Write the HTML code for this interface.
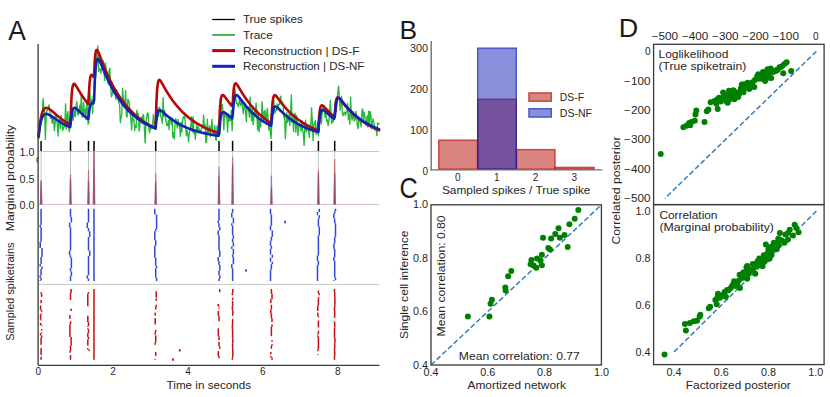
<!DOCTYPE html>
<html><head><meta charset="utf-8"><style>
html,body{margin:0;padding:0;background:#fff;}
svg{display:block;font-family:"Liberation Sans", sans-serif;}
</style></head><body>
<svg width="830" height="397" viewBox="0 0 830 397">
<rect width="830" height="397" fill="#fff"/>
<path d="M38.60,138.73 L39.35,130.65 L40.10,123.01 L40.85,123.52 L41.60,114.02 L42.35,112.35 L43.10,98.61 L43.85,109.58 L44.60,109.94 L45.35,139.43 L46.10,118.17 L46.85,110.60 L47.60,110.40 L48.35,107.28 L49.10,104.83 L49.85,111.04 L50.60,118.42 L51.35,115.20 L52.10,123.39 L52.85,116.06 L53.60,118.73 L54.35,130.64 L55.10,123.62 L55.85,115.04 L56.60,117.80 L57.35,125.80 L58.10,135.96 L58.85,120.23 L59.60,119.95 L60.35,128.51 L61.10,115.69 L61.85,120.17 L62.60,130.29 L63.35,128.98 L64.10,125.75 L64.85,126.79 L65.60,103.62 L66.35,129.32 L67.10,116.98 L67.85,111.63 L68.60,127.26 L69.35,131.79 L70.10,122.76 L70.85,112.67 L71.60,113.43 L72.35,111.37 L73.10,120.28 L73.85,115.08 L74.60,110.75 L75.35,116.47 L76.10,106.60 L76.85,101.63 L77.60,113.66 L78.35,115.07 L79.10,108.83 L79.85,105.21 L80.60,110.72 L81.35,93.83 L82.10,117.06 L82.85,117.19 L83.60,102.29 L84.35,113.37 L85.10,109.20 L85.85,119.76 L86.60,100.85 L87.35,109.21 L88.10,124.32 L88.85,122.00 L89.60,91.27 L90.35,98.73 L91.10,104.49 L91.85,99.49 L92.60,113.45 L93.35,95.37 L94.10,100.32 L94.85,72.33 L95.60,77.73 L96.35,62.55 L97.10,54.39 L97.85,46.01 L98.60,71.41 L99.35,68.49 L100.10,69.43 L100.85,73.39 L101.60,68.25 L102.35,61.20 L103.10,60.73 L103.85,64.53 L104.60,80.83 L105.35,62.95 L106.10,68.99 L106.85,74.25 L107.60,80.85 L108.35,83.95 L109.10,70.75 L109.85,68.29 L110.60,84.28 L111.35,96.71 L112.10,95.11 L112.85,91.12 L113.60,88.24 L114.35,93.32 L115.10,91.94 L115.85,99.48 L116.60,89.75 L117.35,96.47 L118.10,97.21 L118.85,102.96 L119.60,104.45 L120.35,122.71 L121.10,117.63 L121.85,114.00 L122.60,88.36 L123.35,99.08 L124.10,100.67 L124.85,107.60 L125.60,90.56 L126.35,116.10 L127.10,117.14 L127.85,99.20 L128.60,100.36 L129.35,103.70 L130.10,111.96 L130.85,119.71 L131.60,130.01 L132.35,115.09 L133.10,120.62 L133.85,118.93 L134.60,130.76 L135.35,125.46 L136.10,127.60 L136.85,110.12 L137.60,114.69 L138.35,113.47 L139.10,131.09 L139.85,126.19 L140.60,117.99 L141.35,117.28 L142.10,123.93 L142.85,115.61 L143.60,114.46 L144.35,127.95 L145.10,142.94 L145.85,123.36 L146.60,117.97 L147.35,112.97 L148.10,113.29 L148.85,128.72 L149.60,132.71 L150.35,126.98 L151.10,128.86 L151.85,127.82 L152.60,126.45 L153.35,114.55 L154.10,122.31 L154.85,127.35 L155.60,121.37 L156.35,114.56 L157.10,107.19 L157.85,109.04 L158.60,116.38 L159.35,107.24 L160.10,108.99 L160.85,117.14 L161.60,118.30 L162.35,123.33 L163.10,97.68 L163.85,116.78 L164.60,110.30 L165.35,115.25 L166.10,122.39 L166.85,125.65 L167.60,125.28 L168.35,120.22 L169.10,129.67 L169.85,116.71 L170.60,117.45 L171.35,124.32 L172.10,117.70 L172.85,137.43 L173.60,132.67 L174.35,139.07 L175.10,122.73 L175.85,118.70 L176.60,123.77 L177.35,127.98 L178.10,119.37 L178.85,125.81 L179.60,125.65 L180.35,136.44 L181.10,121.94 L181.85,132.02 L182.60,120.26 L183.35,116.65 L184.10,118.21 L184.85,116.30 L185.60,127.73 L186.35,135.60 L187.10,130.33 L187.85,134.46 L188.60,141.92 L189.35,132.24 L190.10,130.10 L190.85,125.20 L191.60,116.71 L192.35,132.06 L193.10,116.97 L193.85,133.31 L194.60,131.76 L195.35,139.27 L196.10,130.33 L196.85,124.49 L197.60,132.49 L198.35,126.92 L199.10,129.46 L199.85,131.65 L200.60,130.60 L201.35,129.54 L202.10,125.17 L202.85,127.90 L203.60,115.11 L204.35,128.14 L205.10,124.28 L205.85,142.10 L206.60,142.56 L207.35,119.19 L208.10,132.62 L208.85,131.77 L209.60,125.86 L210.35,136.71 L211.10,129.17 L211.85,119.36 L212.60,130.31 L213.35,133.14 L214.10,134.08 L214.85,125.60 L215.60,139.28 L216.35,140.31 L217.10,125.98 L217.85,128.68 L218.60,133.41 L219.35,126.45 L220.10,134.27 L220.85,118.26 L221.60,104.65 L222.35,104.73 L223.10,112.74 L223.85,129.87 L224.60,113.06 L225.35,113.88 L226.10,117.28 L226.85,116.15 L227.60,131.96 L228.35,113.68 L229.10,121.10 L229.85,118.77 L230.60,120.67 L231.35,110.27 L232.10,130.71 L232.85,114.32 L233.60,102.92 L234.35,90.23 L235.10,89.55 L235.85,99.45 L236.60,103.73 L237.35,103.12 L238.10,106.73 L238.85,103.40 L239.60,99.17 L240.35,105.69 L241.10,104.86 L241.85,100.89 L242.60,108.36 L243.35,113.58 L244.10,106.09 L244.85,102.32 L245.60,112.42 L246.35,121.72 L247.10,106.99 L247.85,106.62 L248.60,108.57 L249.35,117.13 L250.10,96.99 L250.85,113.14 L251.60,120.68 L252.35,108.48 L253.10,124.64 L253.85,118.91 L254.60,110.70 L255.35,114.55 L256.10,102.99 L256.85,112.01 L257.60,129.99 L258.35,113.94 L259.10,131.76 L259.85,120.72 L260.60,126.99 L261.35,118.70 L262.10,101.64 L262.85,113.97 L263.60,120.88 L264.35,111.19 L265.10,110.45 L265.85,123.39 L266.60,116.37 L267.35,108.42 L268.10,117.42 L268.85,129.86 L269.60,122.53 L270.35,133.44 L271.10,138.46 L271.85,119.67 L272.60,101.93 L273.35,97.02 L274.10,106.17 L274.85,113.39 L275.60,109.62 L276.35,110.56 L277.10,104.19 L277.85,109.02 L278.60,104.45 L279.35,104.61 L280.10,97.49 L280.85,96.11 L281.60,104.66 L282.35,101.61 L283.10,104.51 L283.85,117.61 L284.60,116.70 L285.35,138.76 L286.10,124.96 L286.85,112.53 L287.60,122.44 L288.35,120.03 L289.10,113.63 L289.85,125.58 L290.60,110.61 L291.35,94.85 L292.10,122.49 L292.85,117.66 L293.60,131.43 L294.35,116.39 L295.10,113.20 L295.85,132.33 L296.60,115.79 L297.35,125.08 L298.10,135.41 L298.85,126.19 L299.60,123.87 L300.35,126.26 L301.10,131.07 L301.85,120.43 L302.60,130.44 L303.35,133.70 L304.10,145.38 L304.85,125.53 L305.60,120.21 L306.35,132.02 L307.10,125.60 L307.85,130.09 L308.60,130.85 L309.35,137.44 L310.10,124.71 L310.85,125.21 L311.60,108.02 L312.35,121.54 L313.10,140.64 L313.85,125.55 L314.60,122.89 L315.35,120.76 L316.10,134.45 L316.85,131.88 L317.60,122.63 L318.35,135.90 L319.10,124.93 L319.85,120.88 L320.60,109.25 L321.35,123.91 L322.10,114.48 L322.85,108.47 L323.60,105.28 L324.35,108.64 L325.10,117.19 L325.85,111.25 L326.60,121.06 L327.35,119.86 L328.10,125.62 L328.85,121.91 L329.60,113.15 L330.35,100.34 L331.10,117.27 L331.85,123.38 L332.60,119.84 L333.35,121.90 L334.10,114.72 L334.85,111.63 L335.60,99.99 L336.35,111.48 L337.10,100.89 L337.85,92.55 L338.60,86.17 L339.35,96.68 L340.10,110.27 L340.85,103.63 L341.60,96.19 L342.35,113.15 L343.10,115.79 L343.85,112.95 L344.60,112.25 L345.35,115.29 L346.10,111.88 L346.85,112.43 L347.60,103.35 L348.35,119.59 L349.10,114.32 L349.85,124.12 L350.60,96.89 L351.35,115.83 L352.10,120.19 L352.85,111.37 L353.60,117.39 L354.35,121.06 L355.10,119.52 L355.85,111.45 L356.60,115.29 L357.35,125.84 L358.10,128.48 L358.85,119.86 L359.60,119.19 L360.35,121.54 L361.10,126.80 L361.85,111.14 L362.60,108.80 L363.35,119.41 L364.10,112.02 L364.85,116.08 L365.60,122.83 L366.35,125.56 L367.10,115.83 L367.85,127.10 L368.60,111.10 L369.35,125.35 L370.10,111.37 L370.85,113.97 L371.60,128.92 L372.35,122.42 L373.10,118.96 L373.85,122.62 L374.60,130.06 L375.35,127.16 L376.10,128.24 L376.85,135.47 L377.60,122.93 L378.35,123.35 L379.10,123.99" fill="none" stroke="rgb(40,185,60)" stroke-width="1.35" stroke-linejoin="round" stroke-linecap="round" />
<path d="M38.60,137.05 L39.35,129.03 L40.10,122.91 L40.85,118.28 L41.60,114.83 L42.35,112.31 L43.10,110.51 L43.85,109.28 L44.60,108.50 L45.35,108.07 L46.10,107.91 L46.85,107.96 L47.60,108.17 L48.35,108.51 L49.10,108.94 L49.85,109.44 L50.60,109.99 L51.35,110.58 L52.10,111.19 L52.85,111.83 L53.60,112.47 L54.35,113.11 L55.10,113.76 L55.85,114.40 L56.60,115.04 L57.35,115.67 L58.10,116.29 L58.85,116.90 L59.60,117.50 L60.35,118.09 L61.10,118.66 L61.85,119.23 L62.60,119.78 L63.35,120.32 L64.10,120.84 L64.85,121.36 L65.60,121.86 L66.35,122.36 L67.10,122.84 L67.85,123.31 L68.60,123.76 L69.35,124.21 L70.10,124.65 L70.85,112.02 L71.60,95.55 L72.35,87.90 L73.10,84.73 L73.85,83.83 L74.60,84.08 L75.35,84.89 L76.10,85.97 L76.85,87.18 L77.60,88.43 L78.35,89.69 L79.10,90.94 L79.85,92.18 L80.60,93.38 L81.35,94.56 L82.10,95.71 L82.85,96.84 L83.60,97.94 L84.35,99.01 L85.10,100.06 L85.85,101.08 L86.60,102.07 L87.35,103.05 L88.10,104.00 L88.85,94.70 L89.60,82.37 L90.35,76.94 L91.10,75.00 L91.85,74.84 L92.60,75.55 L93.35,76.70 L94.10,74.73 L94.85,59.12 L95.60,52.33 L96.35,50.01 L97.10,49.95 L97.85,51.01 L98.60,52.62 L99.35,54.48 L100.10,56.45 L100.85,58.44 L101.60,60.43 L102.35,62.39 L103.10,64.31 L103.85,66.19 L104.60,68.03 L105.35,69.83 L106.10,71.58 L106.85,73.29 L107.60,74.96 L108.35,76.58 L109.10,78.17 L109.85,79.72 L110.60,81.24 L111.35,82.71 L112.10,84.15 L112.85,85.56 L113.60,86.93 L114.35,88.27 L115.10,89.58 L115.85,90.85 L116.60,92.09 L117.35,93.31 L118.10,94.49 L118.85,95.65 L119.60,96.78 L120.35,97.88 L121.10,98.95 L121.85,100.00 L122.60,101.02 L123.35,102.02 L124.10,102.99 L124.85,103.94 L125.60,104.87 L126.35,105.78 L127.10,106.66 L127.85,107.52 L128.60,108.36 L129.35,109.18 L130.10,109.98 L130.85,110.76 L131.60,111.52 L132.35,112.27 L133.10,112.99 L133.85,113.70 L134.60,114.39 L135.35,115.07 L136.10,115.73 L136.85,116.37 L137.60,116.99 L138.35,117.61 L139.10,118.20 L139.85,118.79 L140.60,119.35 L141.35,119.91 L142.10,120.45 L142.85,120.98 L143.60,121.49 L144.35,121.99 L145.10,122.49 L145.85,122.96 L146.60,123.43 L147.35,123.89 L148.10,124.33 L148.85,124.77 L149.60,125.19 L150.35,125.60 L151.10,126.01 L151.85,126.40 L152.60,126.78 L153.35,127.16 L154.10,127.52 L154.85,127.88 L155.60,128.23 L156.35,103.86 L157.10,89.52 L157.85,83.01 L158.60,80.46 L159.35,79.93 L160.10,80.40 L160.85,81.37 L161.60,82.57 L162.35,83.88 L163.10,85.22 L163.85,86.56 L164.60,87.89 L165.35,89.20 L166.10,90.48 L166.85,91.73 L167.60,92.95 L168.35,94.14 L169.10,95.30 L169.85,96.44 L170.60,97.55 L171.35,98.63 L172.10,99.69 L172.85,100.72 L173.60,101.72 L174.35,102.70 L175.10,103.66 L175.85,104.59 L176.60,105.51 L177.35,106.39 L178.10,107.26 L178.85,108.11 L179.60,108.94 L180.35,109.74 L181.10,110.53 L181.85,111.30 L182.60,112.05 L183.35,112.78 L184.10,113.49 L184.85,114.19 L185.60,114.87 L186.35,115.53 L187.10,116.18 L187.85,116.81 L188.60,117.42 L189.35,118.02 L190.10,118.61 L190.85,119.18 L191.60,119.74 L192.35,120.29 L193.10,120.82 L193.85,121.34 L194.60,121.84 L195.35,122.34 L196.10,122.82 L196.85,123.29 L197.60,123.75 L198.35,124.20 L199.10,124.64 L199.85,125.06 L200.60,125.48 L201.35,125.89 L202.10,126.28 L202.85,126.67 L203.60,127.05 L204.35,127.41 L205.10,127.77 L205.85,128.12 L206.60,128.47 L207.35,128.80 L208.10,129.13 L208.85,129.44 L209.60,129.75 L210.35,130.06 L211.10,130.35 L211.85,130.64 L212.60,130.92 L213.35,131.20 L214.10,131.47 L214.85,131.73 L215.60,131.98 L216.35,132.23 L217.10,132.47 L217.85,132.71 L218.60,132.94 L219.35,121.26 L220.10,106.08 L220.85,98.95 L221.60,95.90 L222.35,94.94 L223.10,95.02 L223.85,95.62 L224.60,96.47 L225.35,97.43 L226.10,98.45 L226.85,99.47 L227.60,100.49 L228.35,101.49 L229.10,102.47 L229.85,103.43 L230.60,104.37 L231.35,105.28 L232.10,106.18 L232.85,100.91 L233.60,90.05 L234.35,85.26 L235.10,83.55 L235.85,83.39 L236.60,84.01 L237.35,85.01 L238.10,86.18 L238.85,87.43 L239.60,88.70 L240.35,89.97 L241.10,91.22 L241.85,92.45 L242.60,93.65 L243.35,94.83 L244.10,95.97 L244.85,97.09 L245.60,98.18 L246.35,99.25 L247.10,100.29 L247.85,101.31 L248.60,102.30 L249.35,103.26 L250.10,104.21 L250.85,105.13 L251.60,106.03 L252.35,106.90 L253.10,107.76 L253.85,108.59 L254.60,109.41 L255.35,110.20 L256.10,110.98 L256.85,111.74 L257.60,112.48 L258.35,113.20 L259.10,113.90 L259.85,114.59 L260.60,115.26 L261.35,115.91 L262.10,116.55 L262.85,117.17 L263.60,117.78 L264.35,118.37 L265.10,118.95 L265.85,119.51 L266.60,120.06 L267.35,120.60 L268.10,121.12 L268.85,121.64 L269.60,122.13 L270.35,122.62 L271.10,123.10 L271.85,112.28 L272.60,101.95 L273.35,97.29 L274.10,95.49 L274.85,95.16 L275.60,95.54 L276.35,96.29 L277.10,97.21 L277.85,98.20 L278.60,99.21 L279.35,100.23 L280.10,101.23 L280.85,102.22 L281.60,103.18 L282.35,104.13 L283.10,105.05 L283.85,105.95 L284.60,106.83 L285.35,107.69 L286.10,108.52 L286.85,109.34 L287.60,110.14 L288.35,110.91 L289.10,111.67 L289.85,112.41 L290.60,113.13 L291.35,113.84 L292.10,114.53 L292.85,115.20 L293.60,115.85 L294.35,116.49 L295.10,117.12 L295.85,117.72 L296.60,118.32 L297.35,118.90 L298.10,119.46 L298.85,120.01 L299.60,120.55 L300.35,121.08 L301.10,121.59 L301.85,122.09 L302.60,122.58 L303.35,123.06 L304.10,123.52 L304.85,123.97 L305.60,124.42 L306.35,124.85 L307.10,125.27 L307.85,125.68 L308.60,126.08 L309.35,126.47 L310.10,126.86 L310.85,127.23 L311.60,127.59 L312.35,127.95 L313.10,128.30 L313.85,128.63 L314.60,128.96 L315.35,129.29 L316.10,129.60 L316.85,129.91 L317.60,130.21 L318.35,130.50 L319.10,116.95 L319.85,109.81 L320.60,106.64 L321.35,105.48 L322.10,105.34 L322.85,105.71 L323.60,106.33 L324.35,107.06 L325.10,107.84 L325.85,108.64 L326.60,109.43 L327.35,110.22 L328.10,110.99 L328.85,111.74 L329.60,112.48 L330.35,113.20 L331.10,113.90 L331.85,114.59 L332.60,115.26 L333.35,115.91 L334.10,116.55 L334.85,113.99 L335.60,103.96 L336.35,99.42 L337.10,97.67 L337.85,97.33 L338.60,97.69 L339.35,98.39 L340.10,99.26 L340.85,100.21 L341.60,101.18 L342.35,102.15 L343.10,103.10 L343.85,104.04 L344.60,104.97 L345.35,105.87 L346.10,106.75 L346.85,107.60 L347.60,108.44 L348.35,109.26 L349.10,110.06 L349.85,110.84 L350.60,111.60 L351.35,112.34 L352.10,113.07 L352.85,113.77 L353.60,114.46 L354.35,115.13 L355.10,115.79 L355.85,116.43 L356.60,117.06 L357.35,117.67 L358.10,118.26 L358.85,118.84 L359.60,119.41 L360.35,119.96 L361.10,120.50 L361.85,121.03 L362.60,121.54 L363.35,122.04 L364.10,122.53 L364.85,123.01 L365.60,123.48 L366.35,123.93 L367.10,124.37 L367.85,124.81 L368.60,125.23 L369.35,125.64 L370.10,126.04 L370.85,126.44 L371.60,126.82 L372.35,127.19 L373.10,127.56 L373.85,127.91 L374.60,128.26 L375.35,128.60 L376.10,128.93 L376.85,129.25 L377.60,129.57 L378.35,129.88 L379.10,130.18" fill="none" stroke="rgb(181,9,5)" stroke-width="2.6" stroke-linejoin="round" stroke-linecap="round" />
<path d="M38.60,135.73 L39.35,129.65 L40.10,125.01 L40.85,121.52 L41.60,118.93 L42.35,117.05 L43.10,115.72 L43.85,114.82 L44.60,114.27 L45.35,113.98 L46.10,113.90 L46.85,113.97 L47.60,114.17 L48.35,114.46 L49.10,114.83 L49.85,115.24 L50.60,115.69 L51.35,116.17 L52.10,116.67 L52.85,117.17 L53.60,117.69 L54.35,118.20 L55.10,118.71 L55.85,119.22 L56.60,119.73 L57.35,120.22 L58.10,120.71 L58.85,121.19 L59.60,121.66 L60.35,122.12 L61.10,122.57 L61.85,123.01 L62.60,123.44 L63.35,123.86 L64.10,124.27 L64.85,124.67 L65.60,125.06 L66.35,125.44 L67.10,125.81 L67.85,126.17 L68.60,126.52 L69.35,126.86 L70.10,127.19 L70.85,122.20 L71.60,114.85 L72.35,110.86 L73.10,108.84 L73.85,108.00 L74.60,107.84 L75.35,108.09 L76.10,108.56 L76.85,109.16 L77.60,109.83 L78.35,110.54 L79.10,111.25 L79.85,111.96 L80.60,112.67 L81.35,113.36 L82.10,114.04 L82.85,114.70 L83.60,115.35 L84.35,115.98 L85.10,116.60 L85.85,117.20 L86.60,117.78 L87.35,118.35 L88.10,118.91 L88.85,114.69 L89.60,108.38 L90.35,105.04 L91.10,103.48 L91.85,102.95 L92.60,103.03 L93.35,103.46 L94.10,100.22 L94.85,79.46 L95.60,68.05 L96.35,62.19 L97.10,59.61 L97.85,58.95 L98.60,59.42 L99.35,60.53 L100.10,62.01 L100.85,63.69 L101.60,65.46 L102.35,67.26 L103.10,69.07 L103.85,70.87 L104.60,72.63 L105.35,74.36 L106.10,76.04 L106.85,77.69 L107.60,79.30 L108.35,80.87 L109.10,82.39 L109.85,83.88 L110.60,85.33 L111.35,86.74 L112.10,88.12 L112.85,89.46 L113.60,90.76 L114.35,92.04 L115.10,93.27 L115.85,94.48 L116.60,95.66 L117.35,96.80 L118.10,97.91 L118.85,99.00 L119.60,100.06 L120.35,101.09 L121.10,102.09 L121.85,103.07 L122.60,104.02 L123.35,104.95 L124.10,105.85 L124.85,106.73 L125.60,107.58 L126.35,108.42 L127.10,109.23 L127.85,110.02 L128.60,110.79 L129.35,111.55 L130.10,112.28 L130.85,112.99 L131.60,113.68 L132.35,114.36 L133.10,115.02 L133.85,115.66 L134.60,116.28 L135.35,116.89 L136.10,117.48 L136.85,118.06 L137.60,118.62 L138.35,119.17 L139.10,119.70 L139.85,120.22 L140.60,120.73 L141.35,121.22 L142.10,121.70 L142.85,122.17 L143.60,122.63 L144.35,123.07 L145.10,123.50 L145.85,123.92 L146.60,124.33 L147.35,124.73 L148.10,125.12 L148.85,125.50 L149.60,125.87 L150.35,126.23 L151.10,126.58 L151.85,126.92 L152.60,127.25 L153.35,127.57 L154.10,127.89 L154.85,128.20 L155.60,128.50 L156.35,120.47 L157.10,115.06 L157.85,112.17 L158.60,110.79 L159.35,110.29 L160.10,110.32 L160.85,110.64 L161.60,111.13 L162.35,111.71 L163.10,112.35 L163.85,113.00 L164.60,113.66 L165.35,114.32 L166.10,114.97 L166.85,115.60 L167.60,116.22 L168.35,116.83 L169.10,117.42 L169.85,118.00 L170.60,118.57 L171.35,119.11 L172.10,119.65 L172.85,120.17 L173.60,120.68 L174.35,121.17 L175.10,121.65 L175.85,122.12 L176.60,122.58 L177.35,123.02 L178.10,123.46 L178.85,123.88 L179.60,124.29 L180.35,124.69 L181.10,125.08 L181.85,125.46 L182.60,125.83 L183.35,126.19 L184.10,126.54 L184.85,126.88 L185.60,127.22 L186.35,127.54 L187.10,127.86 L187.85,128.16 L188.60,128.46 L189.35,128.76 L190.10,129.04 L190.85,129.32 L191.60,129.59 L192.35,129.85 L193.10,130.11 L193.85,130.36 L194.60,130.60 L195.35,130.84 L196.10,131.07 L196.85,131.29 L197.60,131.51 L198.35,131.72 L199.10,131.93 L199.85,132.13 L200.60,132.33 L201.35,132.52 L202.10,132.71 L202.85,132.89 L203.60,133.06 L204.35,133.24 L205.10,133.40 L205.85,133.57 L206.60,133.73 L207.35,133.88 L208.10,134.03 L208.85,134.18 L209.60,134.33 L210.35,134.46 L211.10,134.60 L211.85,134.73 L212.60,134.86 L213.35,134.99 L214.10,135.11 L214.85,135.23 L215.60,135.35 L216.35,135.46 L217.10,135.57 L217.85,135.68 L218.60,135.78 L219.35,129.81 L220.10,121.17 L220.85,116.36 L221.60,113.81 L222.35,112.61 L223.10,112.19 L223.85,112.24 L224.60,112.56 L225.35,113.03 L226.10,113.58 L226.85,114.18 L227.60,114.79 L228.35,115.41 L229.10,116.02 L229.85,116.62 L230.60,117.22 L231.35,117.80 L232.10,118.36 L232.85,113.99 L233.60,104.21 L234.35,98.90 L235.10,96.26 L235.85,95.18 L236.60,95.02 L237.35,95.40 L238.10,96.09 L238.85,96.94 L239.60,97.89 L240.35,98.88 L241.10,99.88 L241.85,100.88 L242.60,101.87 L243.35,102.84 L244.10,103.79 L244.85,104.72 L245.60,105.62 L246.35,106.51 L247.10,107.37 L247.85,108.21 L248.60,109.03 L249.35,109.82 L250.10,110.60 L250.85,111.35 L251.60,112.09 L252.35,112.81 L253.10,113.51 L253.85,114.19 L254.60,114.85 L255.35,115.50 L256.10,116.12 L256.85,116.74 L257.60,117.33 L258.35,117.92 L259.10,118.48 L259.85,119.03 L260.60,119.57 L261.35,120.09 L262.10,120.60 L262.85,121.10 L263.60,121.58 L264.35,122.05 L265.10,122.51 L265.85,122.96 L266.60,123.39 L267.35,123.82 L268.10,124.23 L268.85,124.63 L269.60,125.02 L270.35,125.40 L271.10,125.78 L271.85,119.51 L272.60,112.74 L273.35,109.09 L274.10,107.30 L274.85,106.60 L275.60,106.54 L276.35,106.86 L277.10,107.39 L277.85,108.03 L278.60,108.74 L279.35,109.48 L280.10,110.22 L280.85,110.96 L281.60,111.69 L282.35,112.41 L283.10,113.12 L283.85,113.80 L284.60,114.48 L285.35,115.13 L286.10,115.77 L286.85,116.39 L287.60,116.99 L288.35,117.58 L289.10,118.16 L289.85,118.72 L290.60,119.26 L291.35,119.79 L292.10,120.31 L292.85,120.82 L293.60,121.31 L294.35,121.78 L295.10,122.25 L295.85,122.70 L296.60,123.14 L297.35,123.57 L298.10,123.99 L298.85,124.40 L299.60,124.80 L300.35,125.19 L301.10,125.56 L301.85,125.93 L302.60,126.29 L303.35,126.64 L304.10,126.98 L304.85,127.31 L305.60,127.63 L306.35,127.94 L307.10,128.25 L307.85,128.55 L308.60,128.84 L309.35,129.12 L310.10,129.39 L310.85,129.66 L311.60,129.92 L312.35,130.18 L313.10,130.42 L313.85,130.66 L314.60,130.90 L315.35,131.13 L316.10,131.35 L316.85,131.57 L317.60,131.78 L318.35,131.99 L319.10,121.93 L319.85,115.73 L320.60,112.39 L321.35,110.74 L322.10,110.08 L322.85,110.02 L323.60,110.29 L324.35,110.76 L325.10,111.33 L325.85,111.97 L326.60,112.62 L327.35,113.29 L328.10,113.95 L328.85,114.61 L329.60,115.25 L330.35,115.88 L331.10,116.50 L331.85,117.10 L332.60,117.69 L333.35,118.26 L334.10,118.82 L334.85,116.59 L335.60,107.05 L336.35,101.86 L337.10,99.25 L337.85,98.17 L338.60,97.97 L339.35,98.30 L340.10,98.92 L340.85,99.71 L341.60,100.59 L342.35,101.51 L343.10,102.45 L343.85,103.38 L344.60,104.31 L345.35,105.21 L346.10,106.10 L346.85,106.97 L347.60,107.82 L348.35,108.64 L349.10,109.45 L349.85,110.24 L350.60,111.00 L351.35,111.75 L352.10,112.47 L352.85,113.18 L353.60,113.87 L354.35,114.54 L355.10,115.19 L355.85,115.83 L356.60,116.45 L357.35,117.05 L358.10,117.64 L358.85,118.22 L359.60,118.77 L360.35,119.32 L361.10,119.85 L361.85,120.36 L362.60,120.87 L363.35,121.36 L364.10,121.83 L364.85,122.30 L365.60,122.75 L366.35,123.19 L367.10,123.62 L367.85,124.04 L368.60,124.44 L369.35,124.84 L370.10,125.23 L370.85,125.60 L371.60,125.97 L372.35,126.32 L373.10,126.67 L373.85,127.01 L374.60,127.34 L375.35,127.66 L376.10,127.97 L376.85,128.28 L377.60,128.58 L378.35,128.86 L379.10,129.15" fill="none" stroke="rgb(17,33,185)" stroke-width="2.6" stroke-linejoin="round" stroke-linecap="round" />
<line x1="212.20" y1="19.50" x2="235.00" y2="19.50" stroke="#000" stroke-width="1.3" />
<text x="242.90" y="23.40" font-size="11" text-anchor="start" fill="#262626" textLength="60.0" lengthAdjust="spacingAndGlyphs">True spikes</text>
<line x1="212.20" y1="35.00" x2="235.00" y2="35.00" stroke="rgb(40,185,60)" stroke-width="1.8" />
<text x="242.90" y="38.90" font-size="11" text-anchor="start" fill="#262626" textLength="29.9" lengthAdjust="spacingAndGlyphs">Trace</text>
<line x1="212.20" y1="50.60" x2="235.00" y2="50.60" stroke="rgb(181,9,5)" stroke-width="3" />
<text x="242.90" y="54.50" font-size="11" text-anchor="start" fill="#262626" textLength="116.6" lengthAdjust="spacingAndGlyphs">Reconstruction | DS-F</text>
<line x1="212.20" y1="66.30" x2="235.00" y2="66.30" stroke="rgb(17,33,185)" stroke-width="3" />
<text x="242.90" y="70.20" font-size="11" text-anchor="start" fill="#262626" textLength="121.5" lengthAdjust="spacingAndGlyphs">Reconstruction | DS-NF</text>
<line x1="41.10" y1="140.90" x2="41.10" y2="151.50" stroke="#000" stroke-width="1.5" />
<line x1="70.50" y1="140.90" x2="70.50" y2="151.50" stroke="#000" stroke-width="1.5" />
<line x1="88.50" y1="140.90" x2="88.50" y2="151.50" stroke="#000" stroke-width="1.5" />
<line x1="94.00" y1="140.90" x2="94.00" y2="151.50" stroke="#000" stroke-width="1.5" />
<line x1="155.70" y1="140.90" x2="155.70" y2="151.50" stroke="#000" stroke-width="1.5" />
<line x1="219.00" y1="140.90" x2="219.00" y2="151.50" stroke="#000" stroke-width="1.5" />
<line x1="232.60" y1="140.90" x2="232.60" y2="151.50" stroke="#000" stroke-width="1.5" />
<line x1="271.40" y1="140.90" x2="271.40" y2="151.50" stroke="#000" stroke-width="1.5" />
<line x1="318.40" y1="140.90" x2="318.40" y2="151.50" stroke="#000" stroke-width="1.5" />
<line x1="334.70" y1="140.90" x2="334.70" y2="151.50" stroke="#000" stroke-width="1.5" />
<line x1="38.60" y1="151.50" x2="379.30" y2="151.50" stroke="#c8c8c8" stroke-width="1" />
<line x1="38.60" y1="204.40" x2="379.30" y2="204.40" stroke="rgb(215,190,205)" stroke-width="1" />
<line x1="38.60" y1="284.40" x2="379.30" y2="284.40" stroke="#c8c8c8" stroke-width="1" />
<line x1="41.10" y1="151.50" x2="41.10" y2="204.40" stroke="#c8c8c8" stroke-width="1" />
<line x1="70.50" y1="151.50" x2="70.50" y2="204.40" stroke="#c8c8c8" stroke-width="1" />
<line x1="88.50" y1="151.50" x2="88.50" y2="204.40" stroke="#c8c8c8" stroke-width="1" />
<line x1="94.00" y1="151.50" x2="94.00" y2="204.40" stroke="#c8c8c8" stroke-width="1" />
<line x1="155.70" y1="151.50" x2="155.70" y2="204.40" stroke="#c8c8c8" stroke-width="1" />
<line x1="219.00" y1="151.50" x2="219.00" y2="204.40" stroke="#c8c8c8" stroke-width="1" />
<line x1="232.60" y1="151.50" x2="232.60" y2="204.40" stroke="#c8c8c8" stroke-width="1" />
<line x1="271.40" y1="151.50" x2="271.40" y2="204.40" stroke="#c8c8c8" stroke-width="1" />
<line x1="318.40" y1="151.50" x2="318.40" y2="204.40" stroke="#c8c8c8" stroke-width="1" />
<line x1="334.70" y1="151.50" x2="334.70" y2="204.40" stroke="#c8c8c8" stroke-width="1" />
<polygon points="39.80,204.4 40.50,180.59 41.70,180.59 42.40,204.4" fill="rgba(17,33,185,0.42)"/>
<polygon points="39.80,204.4 40.50,180.59 41.70,180.59 42.40,204.4" fill="rgba(181,9,5,0.45)"/>
<polygon points="69.20,204.4 69.90,179.01 71.10,179.01 71.80,204.4" fill="rgba(17,33,185,0.42)"/>
<polygon points="69.20,204.4 69.90,174.25 71.10,174.25 71.80,204.4" fill="rgba(181,9,5,0.45)"/>
<polygon points="87.20,204.4 87.90,181.12 89.10,181.12 89.80,204.4" fill="rgba(17,33,185,0.42)"/>
<polygon points="87.20,204.4 87.90,170.01 89.10,170.01 89.80,204.4" fill="rgba(181,9,5,0.45)"/>
<polygon points="92.70,204.4 93.40,151.50 94.60,151.50 95.30,204.4" fill="rgba(17,33,185,0.42)"/>
<polygon points="92.70,204.4 93.40,151.50 94.60,151.50 95.30,204.4" fill="rgba(181,9,5,0.45)"/>
<polygon points="154.40,204.4 155.10,181.65 156.30,181.65 157.00,204.4" fill="rgba(17,33,185,0.42)"/>
<polygon points="154.40,204.4 155.10,172.66 156.30,172.66 157.00,204.4" fill="rgba(181,9,5,0.45)"/>
<polygon points="217.70,204.4 218.40,166.84 219.60,166.84 220.30,204.4" fill="rgba(17,33,185,0.42)"/>
<polygon points="217.70,204.4 218.40,175.57 219.60,175.57 220.30,204.4" fill="rgba(181,9,5,0.45)"/>
<polygon points="231.30,204.4 232.00,164.20 233.20,164.20 233.90,204.4" fill="rgba(17,33,185,0.42)"/>
<polygon points="231.30,204.4 232.00,156.79 233.20,156.79 233.90,204.4" fill="rgba(181,9,5,0.45)"/>
<polygon points="270.10,204.4 270.80,175.57 272.00,175.57 272.70,204.4" fill="rgba(17,33,185,0.42)"/>
<polygon points="270.10,204.4 270.80,187.47 272.00,187.47 272.70,204.4" fill="rgba(181,9,5,0.45)"/>
<polygon points="317.10,204.4 317.80,172.66 319.00,172.66 319.70,204.4" fill="rgba(17,33,185,0.42)"/>
<polygon points="317.10,204.4 317.80,169.49 319.00,169.49 319.70,204.4" fill="rgba(181,9,5,0.45)"/>
<polygon points="333.40,204.4 334.10,172.66 335.30,172.66 336.00,204.4" fill="rgba(17,33,185,0.42)"/>
<polygon points="333.40,204.4 334.10,158.91 335.30,158.91 336.00,204.4" fill="rgba(181,9,5,0.45)"/>
<rect x="40.35" y="208.80" width="1.5" height="16.04" fill="rgb(50,70,215)"/>
<rect x="39.45" y="224.84" width="1.5" height="2.41" fill="rgb(50,70,215)"/>
<rect x="40.35" y="227.25" width="1.5" height="14.44" fill="rgb(50,70,215)"/>
<rect x="39.45" y="241.69" width="1.5" height="6.42" fill="rgb(50,70,215)"/>
<rect x="41.25" y="248.11" width="1.5" height="8.82" fill="rgb(50,70,215)"/>
<rect x="40.35" y="256.93" width="1.5" height="7.22" fill="rgb(50,70,215)"/>
<rect x="39.45" y="264.15" width="1.5" height="2.41" fill="rgb(50,70,215)"/>
<rect x="41.25" y="266.56" width="1.5" height="2.41" fill="rgb(50,70,215)"/>
<rect x="40.35" y="268.97" width="1.5" height="6.42" fill="rgb(50,70,215)"/>
<rect x="39.45" y="275.38" width="1.5" height="2.41" fill="rgb(50,70,215)"/>
<rect x="40.35" y="277.79" width="1.5" height="2.41" fill="rgb(50,70,215)"/>
<rect x="39.45" y="280.20" width="1.5" height="0.80" fill="rgb(50,70,215)"/>
<rect x="69.75" y="208.80" width="1.5" height="8.02" fill="rgb(50,70,215)"/>
<rect x="70.65" y="216.82" width="1.5" height="5.62" fill="rgb(50,70,215)"/>
<rect x="68.85" y="222.44" width="1.5" height="4.81" fill="rgb(50,70,215)"/>
<rect x="69.75" y="227.25" width="1.5" height="23.26" fill="rgb(50,70,215)"/>
<rect x="68.85" y="250.52" width="1.5" height="4.81" fill="rgb(50,70,215)"/>
<rect x="69.75" y="255.33" width="1.5" height="2.41" fill="rgb(50,70,215)"/>
<rect x="70.65" y="257.74" width="1.5" height="10.43" fill="rgb(50,70,215)"/>
<rect x="69.75" y="268.16" width="1.5" height="3.21" fill="rgb(50,70,215)"/>
<rect x="70.65" y="271.37" width="1.5" height="4.81" fill="rgb(50,70,215)"/>
<rect x="69.75" y="276.19" width="1.5" height="4.81" fill="rgb(50,70,215)"/>
<rect x="87.75" y="208.80" width="1.5" height="13.64" fill="rgb(50,70,215)"/>
<rect x="86.55" y="222.44" width="1.5" height="5.62" fill="rgb(50,70,215)"/>
<rect x="87.75" y="228.05" width="1.5" height="3.21" fill="rgb(50,70,215)"/>
<rect x="88.95" y="231.26" width="1.5" height="5.62" fill="rgb(50,70,215)"/>
<rect x="87.75" y="236.88" width="1.5" height="13.64" fill="rgb(50,70,215)"/>
<rect x="88.95" y="250.52" width="1.5" height="5.62" fill="rgb(50,70,215)"/>
<rect x="87.75" y="256.13" width="1.5" height="19.25" fill="rgb(50,70,215)"/>
<rect x="86.55" y="275.38" width="1.5" height="3.21" fill="rgb(50,70,215)"/>
<rect x="87.75" y="278.59" width="1.5" height="2.41" fill="rgb(50,70,215)"/>
<rect x="93.25" y="208.80" width="1.5" height="72.20" fill="rgb(50,70,215)"/>
<rect x="154.05" y="208.80" width="1.5" height="5.62" fill="rgb(50,70,215)"/>
<rect x="155.85" y="214.42" width="1.5" height="14.44" fill="rgb(50,70,215)"/>
<rect x="154.95" y="228.86" width="1.5" height="2.41" fill="rgb(50,70,215)"/>
<rect x="154.05" y="231.26" width="1.5" height="8.82" fill="rgb(50,70,215)"/>
<rect x="154.95" y="240.09" width="1.5" height="5.62" fill="rgb(50,70,215)"/>
<rect x="154.05" y="245.70" width="1.5" height="12.03" fill="rgb(50,70,215)"/>
<rect x="154.95" y="257.74" width="1.5" height="8.02" fill="rgb(50,70,215)"/>
<rect x="155.85" y="265.76" width="1.5" height="2.41" fill="rgb(50,70,215)"/>
<rect x="154.95" y="268.16" width="1.5" height="9.63" fill="rgb(50,70,215)"/>
<rect x="155.85" y="277.79" width="1.5" height="3.21" fill="rgb(50,70,215)"/>
<rect x="218.25" y="208.80" width="1.5" height="12.03" fill="rgb(50,70,215)"/>
<rect x="217.45" y="220.83" width="1.5" height="2.41" fill="rgb(50,70,215)"/>
<rect x="218.25" y="223.24" width="1.5" height="4.01" fill="rgb(50,70,215)"/>
<rect x="219.05" y="227.25" width="1.5" height="3.21" fill="rgb(50,70,215)"/>
<rect x="217.45" y="230.46" width="1.5" height="4.81" fill="rgb(50,70,215)"/>
<rect x="218.25" y="235.27" width="1.5" height="15.24" fill="rgb(50,70,215)"/>
<rect x="219.05" y="250.52" width="1.5" height="6.42" fill="rgb(50,70,215)"/>
<rect x="217.45" y="256.93" width="1.5" height="4.01" fill="rgb(50,70,215)"/>
<rect x="218.25" y="260.94" width="1.5" height="4.01" fill="rgb(50,70,215)"/>
<rect x="219.05" y="264.96" width="1.5" height="5.62" fill="rgb(50,70,215)"/>
<rect x="218.25" y="270.57" width="1.5" height="4.81" fill="rgb(50,70,215)"/>
<rect x="219.05" y="275.38" width="1.5" height="3.21" fill="rgb(50,70,215)"/>
<rect x="218.25" y="278.59" width="1.5" height="2.41" fill="rgb(50,70,215)"/>
<rect x="231.85" y="208.80" width="1.5" height="4.01" fill="rgb(50,70,215)"/>
<rect x="231.05" y="212.81" width="1.5" height="4.81" fill="rgb(50,70,215)"/>
<rect x="232.65" y="217.62" width="1.5" height="5.62" fill="rgb(50,70,215)"/>
<rect x="231.05" y="223.24" width="1.5" height="2.41" fill="rgb(50,70,215)"/>
<rect x="231.85" y="225.65" width="1.5" height="9.63" fill="rgb(50,70,215)"/>
<rect x="232.65" y="235.27" width="1.5" height="3.21" fill="rgb(50,70,215)"/>
<rect x="231.85" y="238.48" width="1.5" height="4.01" fill="rgb(50,70,215)"/>
<rect x="232.65" y="242.49" width="1.5" height="4.01" fill="rgb(50,70,215)"/>
<rect x="231.05" y="246.50" width="1.5" height="2.41" fill="rgb(50,70,215)"/>
<rect x="232.65" y="248.91" width="1.5" height="5.62" fill="rgb(50,70,215)"/>
<rect x="231.85" y="254.53" width="1.5" height="2.41" fill="rgb(50,70,215)"/>
<rect x="232.65" y="256.93" width="1.5" height="7.22" fill="rgb(50,70,215)"/>
<rect x="231.05" y="264.15" width="1.5" height="4.01" fill="rgb(50,70,215)"/>
<rect x="231.85" y="268.16" width="1.5" height="12.84" fill="rgb(50,70,215)"/>
<rect x="269.75" y="208.80" width="1.5" height="5.62" fill="rgb(50,70,215)"/>
<rect x="270.65" y="214.42" width="1.5" height="11.23" fill="rgb(50,70,215)"/>
<rect x="269.75" y="225.65" width="1.5" height="4.81" fill="rgb(50,70,215)"/>
<rect x="271.55" y="230.46" width="1.5" height="6.42" fill="rgb(50,70,215)"/>
<rect x="270.65" y="236.88" width="1.5" height="4.01" fill="rgb(50,70,215)"/>
<rect x="269.75" y="240.89" width="1.5" height="4.81" fill="rgb(50,70,215)"/>
<rect x="270.65" y="245.70" width="1.5" height="3.21" fill="rgb(50,70,215)"/>
<rect x="269.75" y="248.91" width="1.5" height="5.62" fill="rgb(50,70,215)"/>
<rect x="271.55" y="254.53" width="1.5" height="3.21" fill="rgb(50,70,215)"/>
<rect x="269.75" y="257.74" width="1.5" height="4.01" fill="rgb(50,70,215)"/>
<rect x="271.55" y="261.75" width="1.5" height="2.41" fill="rgb(50,70,215)"/>
<rect x="270.65" y="264.15" width="1.5" height="5.62" fill="rgb(50,70,215)"/>
<rect x="269.75" y="269.77" width="1.5" height="11.23" fill="rgb(50,70,215)"/>
<rect x="318.55" y="208.80" width="1.5" height="3.21" fill="rgb(50,70,215)"/>
<rect x="316.75" y="212.01" width="1.5" height="3.21" fill="rgb(50,70,215)"/>
<rect x="318.55" y="215.22" width="1.5" height="3.21" fill="rgb(50,70,215)"/>
<rect x="317.65" y="218.43" width="1.5" height="8.02" fill="rgb(50,70,215)"/>
<rect x="318.55" y="226.45" width="1.5" height="8.82" fill="rgb(50,70,215)"/>
<rect x="317.65" y="235.27" width="1.5" height="20.06" fill="rgb(50,70,215)"/>
<rect x="316.75" y="255.33" width="1.5" height="5.62" fill="rgb(50,70,215)"/>
<rect x="317.65" y="260.94" width="1.5" height="4.01" fill="rgb(50,70,215)"/>
<rect x="316.75" y="264.96" width="1.5" height="16.04" fill="rgb(50,70,215)"/>
<rect x="334.75" y="208.80" width="1.5" height="2.41" fill="rgb(50,70,215)"/>
<rect x="333.95" y="211.21" width="1.5" height="2.41" fill="rgb(50,70,215)"/>
<rect x="333.15" y="213.61" width="1.5" height="4.81" fill="rgb(50,70,215)"/>
<rect x="333.95" y="218.43" width="1.5" height="4.81" fill="rgb(50,70,215)"/>
<rect x="334.75" y="223.24" width="1.5" height="13.64" fill="rgb(50,70,215)"/>
<rect x="333.95" y="236.88" width="1.5" height="6.42" fill="rgb(50,70,215)"/>
<rect x="333.15" y="243.30" width="1.5" height="5.62" fill="rgb(50,70,215)"/>
<rect x="333.95" y="248.91" width="1.5" height="8.02" fill="rgb(50,70,215)"/>
<rect x="333.15" y="256.93" width="1.5" height="4.01" fill="rgb(50,70,215)"/>
<rect x="333.95" y="260.94" width="1.5" height="16.85" fill="rgb(50,70,215)"/>
<rect x="334.75" y="277.79" width="1.5" height="2.41" fill="rgb(50,70,215)"/>
<rect x="333.15" y="280.20" width="1.5" height="0.80" fill="rgb(50,70,215)"/>
<rect x="284.10" y="220.80" width="1.8" height="2.4" fill="rgb(50,70,215)"/>
<rect x="245.10" y="269.30" width="1.8" height="2.4" fill="rgb(50,70,215)"/>
<rect x="40.35" y="292.15" width="1.5" height="1.57" fill="rgb(195,15,15)"/>
<rect x="40.85" y="293.72" width="1.5" height="3.15" fill="rgb(195,15,15)"/>
<rect x="40.35" y="300.01" width="1.5" height="3.15" fill="rgb(195,15,15)"/>
<rect x="39.85" y="305.52" width="1.5" height="4.72" fill="rgb(195,15,15)"/>
<rect x="40.85" y="310.24" width="1.5" height="1.57" fill="rgb(195,15,15)"/>
<rect x="40.85" y="313.39" width="1.5" height="0.79" fill="rgb(195,15,15)"/>
<rect x="39.85" y="314.17" width="1.5" height="5.51" fill="rgb(195,15,15)"/>
<rect x="40.35" y="319.68" width="1.5" height="0.79" fill="rgb(195,15,15)"/>
<rect x="39.85" y="322.83" width="1.5" height="2.36" fill="rgb(195,15,15)"/>
<rect x="40.85" y="325.19" width="1.5" height="0.79" fill="rgb(195,15,15)"/>
<rect x="40.85" y="329.12" width="1.5" height="1.57" fill="rgb(195,15,15)"/>
<rect x="40.85" y="332.27" width="1.5" height="0.79" fill="rgb(195,15,15)"/>
<rect x="39.85" y="333.05" width="1.5" height="2.36" fill="rgb(195,15,15)"/>
<rect x="40.85" y="335.41" width="1.5" height="2.36" fill="rgb(195,15,15)"/>
<rect x="40.35" y="337.77" width="1.5" height="7.08" fill="rgb(195,15,15)"/>
<rect x="40.35" y="348.00" width="1.5" height="7.08" fill="rgb(195,15,15)"/>
<rect x="40.35" y="356.65" width="1.5" height="3.15" fill="rgb(195,15,15)"/>
<rect x="70.35" y="289.00" width="1.5" height="3.93" fill="rgb(195,15,15)"/>
<rect x="69.75" y="292.93" width="1.5" height="7.08" fill="rgb(195,15,15)"/>
<rect x="70.35" y="308.67" width="1.5" height="2.36" fill="rgb(195,15,15)"/>
<rect x="69.15" y="314.96" width="1.5" height="3.93" fill="rgb(195,15,15)"/>
<rect x="69.75" y="321.25" width="1.5" height="3.15" fill="rgb(195,15,15)"/>
<rect x="69.15" y="324.40" width="1.5" height="12.59" fill="rgb(195,15,15)"/>
<rect x="70.35" y="336.99" width="1.5" height="8.65" fill="rgb(195,15,15)"/>
<rect x="69.75" y="345.64" width="1.5" height="5.51" fill="rgb(195,15,15)"/>
<rect x="69.15" y="351.15" width="1.5" height="1.57" fill="rgb(195,15,15)"/>
<rect x="69.75" y="355.08" width="1.5" height="4.72" fill="rgb(195,15,15)"/>
<rect x="87.75" y="292.15" width="1.5" height="1.57" fill="rgb(195,15,15)"/>
<rect x="87.05" y="293.72" width="1.5" height="12.59" fill="rgb(195,15,15)"/>
<rect x="87.05" y="315.75" width="1.5" height="6.29" fill="rgb(195,15,15)"/>
<rect x="87.75" y="322.04" width="1.5" height="3.93" fill="rgb(195,15,15)"/>
<rect x="87.05" y="325.97" width="1.5" height="0.79" fill="rgb(195,15,15)"/>
<rect x="87.05" y="328.33" width="1.5" height="0.79" fill="rgb(195,15,15)"/>
<rect x="87.75" y="329.12" width="1.5" height="3.93" fill="rgb(195,15,15)"/>
<rect x="87.05" y="333.05" width="1.5" height="3.93" fill="rgb(195,15,15)"/>
<rect x="87.75" y="336.99" width="1.5" height="2.36" fill="rgb(195,15,15)"/>
<rect x="87.05" y="339.35" width="1.5" height="6.29" fill="rgb(195,15,15)"/>
<rect x="87.05" y="348.00" width="1.5" height="1.57" fill="rgb(195,15,15)"/>
<rect x="88.45" y="349.57" width="1.5" height="1.57" fill="rgb(195,15,15)"/>
<rect x="93.25" y="289.00" width="1.5" height="70.80" fill="rgb(195,15,15)"/>
<rect x="155.45" y="291.36" width="1.5" height="6.29" fill="rgb(195,15,15)"/>
<rect x="155.45" y="298.44" width="1.5" height="2.36" fill="rgb(195,15,15)"/>
<rect x="155.45" y="304.73" width="1.5" height="2.36" fill="rgb(195,15,15)"/>
<rect x="154.95" y="307.09" width="1.5" height="2.36" fill="rgb(195,15,15)"/>
<rect x="154.45" y="312.60" width="1.5" height="3.15" fill="rgb(195,15,15)"/>
<rect x="154.45" y="318.11" width="1.5" height="6.29" fill="rgb(195,15,15)"/>
<rect x="154.95" y="329.91" width="1.5" height="2.36" fill="rgb(195,15,15)"/>
<rect x="154.45" y="332.27" width="1.5" height="2.36" fill="rgb(195,15,15)"/>
<rect x="154.95" y="335.41" width="1.5" height="7.08" fill="rgb(195,15,15)"/>
<rect x="154.45" y="342.49" width="1.5" height="2.36" fill="rgb(195,15,15)"/>
<rect x="154.95" y="351.93" width="1.5" height="3.93" fill="rgb(195,15,15)"/>
<rect x="154.45" y="359.01" width="1.5" height="0.79" fill="rgb(195,15,15)"/>
<rect x="218.95" y="289.00" width="1.5" height="3.15" fill="rgb(195,15,15)"/>
<rect x="217.55" y="303.95" width="1.5" height="2.36" fill="rgb(195,15,15)"/>
<rect x="218.25" y="306.31" width="1.5" height="0.79" fill="rgb(195,15,15)"/>
<rect x="218.25" y="307.88" width="1.5" height="0.79" fill="rgb(195,15,15)"/>
<rect x="217.55" y="311.03" width="1.5" height="4.72" fill="rgb(195,15,15)"/>
<rect x="218.25" y="315.75" width="1.5" height="5.51" fill="rgb(195,15,15)"/>
<rect x="217.55" y="328.33" width="1.5" height="7.87" fill="rgb(195,15,15)"/>
<rect x="218.25" y="336.20" width="1.5" height="3.93" fill="rgb(195,15,15)"/>
<rect x="218.25" y="341.71" width="1.5" height="4.72" fill="rgb(195,15,15)"/>
<rect x="218.95" y="346.43" width="1.5" height="2.36" fill="rgb(195,15,15)"/>
<rect x="217.55" y="351.15" width="1.5" height="4.72" fill="rgb(195,15,15)"/>
<rect x="218.25" y="355.87" width="1.5" height="2.36" fill="rgb(195,15,15)"/>
<rect x="232.05" y="289.00" width="1.5" height="3.93" fill="rgb(195,15,15)"/>
<rect x="231.65" y="292.93" width="1.5" height="2.36" fill="rgb(195,15,15)"/>
<rect x="231.85" y="297.65" width="1.5" height="2.36" fill="rgb(195,15,15)"/>
<rect x="231.85" y="300.80" width="1.5" height="5.51" fill="rgb(195,15,15)"/>
<rect x="231.65" y="306.31" width="1.5" height="3.93" fill="rgb(195,15,15)"/>
<rect x="232.05" y="310.24" width="1.5" height="4.72" fill="rgb(195,15,15)"/>
<rect x="231.85" y="314.96" width="1.5" height="0.79" fill="rgb(195,15,15)"/>
<rect x="231.85" y="318.89" width="1.5" height="6.29" fill="rgb(195,15,15)"/>
<rect x="231.65" y="325.19" width="1.5" height="3.93" fill="rgb(195,15,15)"/>
<rect x="231.85" y="329.12" width="1.5" height="9.44" fill="rgb(195,15,15)"/>
<rect x="232.05" y="338.56" width="1.5" height="4.72" fill="rgb(195,15,15)"/>
<rect x="231.85" y="343.28" width="1.5" height="5.51" fill="rgb(195,15,15)"/>
<rect x="232.05" y="348.79" width="1.5" height="8.65" fill="rgb(195,15,15)"/>
<rect x="231.65" y="357.44" width="1.5" height="2.36" fill="rgb(195,15,15)"/>
<rect x="270.65" y="289.00" width="1.5" height="4.72" fill="rgb(195,15,15)"/>
<rect x="271.25" y="293.72" width="1.5" height="5.51" fill="rgb(195,15,15)"/>
<rect x="270.05" y="299.23" width="1.5" height="3.93" fill="rgb(195,15,15)"/>
<rect x="270.65" y="304.73" width="1.5" height="4.72" fill="rgb(195,15,15)"/>
<rect x="270.05" y="309.45" width="1.5" height="3.93" fill="rgb(195,15,15)"/>
<rect x="270.65" y="313.39" width="1.5" height="4.72" fill="rgb(195,15,15)"/>
<rect x="271.25" y="318.11" width="1.5" height="3.93" fill="rgb(195,15,15)"/>
<rect x="271.25" y="324.40" width="1.5" height="2.36" fill="rgb(195,15,15)"/>
<rect x="270.65" y="326.76" width="1.5" height="9.44" fill="rgb(195,15,15)"/>
<rect x="271.25" y="340.13" width="1.5" height="1.57" fill="rgb(195,15,15)"/>
<rect x="271.25" y="344.07" width="1.5" height="1.57" fill="rgb(195,15,15)"/>
<rect x="270.65" y="345.64" width="1.5" height="3.15" fill="rgb(195,15,15)"/>
<rect x="270.05" y="351.93" width="1.5" height="2.36" fill="rgb(195,15,15)"/>
<rect x="270.05" y="355.87" width="1.5" height="1.57" fill="rgb(195,15,15)"/>
<rect x="271.25" y="357.44" width="1.5" height="2.36" fill="rgb(195,15,15)"/>
<rect x="317.65" y="290.57" width="1.5" height="2.36" fill="rgb(195,15,15)"/>
<rect x="318.25" y="292.93" width="1.5" height="2.36" fill="rgb(195,15,15)"/>
<rect x="318.25" y="296.87" width="1.5" height="0.79" fill="rgb(195,15,15)"/>
<rect x="317.65" y="297.65" width="1.5" height="7.87" fill="rgb(195,15,15)"/>
<rect x="317.05" y="305.52" width="1.5" height="5.51" fill="rgb(195,15,15)"/>
<rect x="317.05" y="312.60" width="1.5" height="3.15" fill="rgb(195,15,15)"/>
<rect x="317.65" y="315.75" width="1.5" height="1.57" fill="rgb(195,15,15)"/>
<rect x="317.65" y="320.47" width="1.5" height="7.08" fill="rgb(195,15,15)"/>
<rect x="317.65" y="330.69" width="1.5" height="3.15" fill="rgb(195,15,15)"/>
<rect x="317.05" y="333.84" width="1.5" height="0.79" fill="rgb(195,15,15)"/>
<rect x="317.05" y="335.41" width="1.5" height="1.57" fill="rgb(195,15,15)"/>
<rect x="317.65" y="336.99" width="1.5" height="12.59" fill="rgb(195,15,15)"/>
<rect x="317.05" y="349.57" width="1.5" height="1.57" fill="rgb(195,15,15)"/>
<rect x="317.05" y="354.29" width="1.5" height="0.79" fill="rgb(195,15,15)"/>
<rect x="333.75" y="289.00" width="1.5" height="3.15" fill="rgb(195,15,15)"/>
<rect x="333.95" y="292.15" width="1.5" height="4.72" fill="rgb(195,15,15)"/>
<rect x="334.15" y="296.87" width="1.5" height="7.87" fill="rgb(195,15,15)"/>
<rect x="333.95" y="304.73" width="1.5" height="3.15" fill="rgb(195,15,15)"/>
<rect x="333.75" y="307.88" width="1.5" height="3.15" fill="rgb(195,15,15)"/>
<rect x="333.95" y="311.03" width="1.5" height="6.29" fill="rgb(195,15,15)"/>
<rect x="333.75" y="317.32" width="1.5" height="0.79" fill="rgb(195,15,15)"/>
<rect x="333.75" y="321.25" width="1.5" height="1.57" fill="rgb(195,15,15)"/>
<rect x="333.95" y="322.83" width="1.5" height="4.72" fill="rgb(195,15,15)"/>
<rect x="333.75" y="327.55" width="1.5" height="10.23" fill="rgb(195,15,15)"/>
<rect x="334.15" y="337.77" width="1.5" height="5.51" fill="rgb(195,15,15)"/>
<rect x="333.95" y="343.28" width="1.5" height="5.51" fill="rgb(195,15,15)"/>
<rect x="333.75" y="348.79" width="1.5" height="2.36" fill="rgb(195,15,15)"/>
<rect x="333.95" y="351.15" width="1.5" height="4.72" fill="rgb(195,15,15)"/>
<rect x="333.75" y="355.87" width="1.5" height="3.93" fill="rgb(195,15,15)"/>
<rect x="172.00" y="358.30" width="1.8" height="2.4" fill="rgb(195,15,15)"/>
<rect x="178.80" y="349.10" width="1.8" height="2.4" fill="rgb(195,15,15)"/>
<line x1="38.10" y1="44.00" x2="38.10" y2="365.50" stroke="#3a3a3a" stroke-width="1.3" />
<line x1="38.40" y1="365.30" x2="379.40" y2="365.30" stroke="#3a3a3a" stroke-width="1.3" />
<text x="38.20" y="375.20" font-size="10" text-anchor="middle" fill="#262626">0</text>
<text x="113.10" y="375.20" font-size="10" text-anchor="middle" fill="#262626">2</text>
<text x="188.00" y="375.20" font-size="10" text-anchor="middle" fill="#262626">4</text>
<text x="262.90" y="375.20" font-size="10" text-anchor="middle" fill="#262626">6</text>
<text x="337.80" y="375.20" font-size="10" text-anchor="middle" fill="#262626">8</text>
<text x="166.60" y="388.90" font-size="11" text-anchor="start" fill="#262626" textLength="84.6" lengthAdjust="spacingAndGlyphs">Time in seconds</text>
<text x="34.40" y="155.60" font-size="10" text-anchor="end" fill="#262626" textLength="15.0" lengthAdjust="spacingAndGlyphs">1.0</text>
<text x="34.40" y="182.80" font-size="10" text-anchor="end" fill="#262626" textLength="15.0" lengthAdjust="spacingAndGlyphs">0.5</text>
<text x="34.40" y="209.20" font-size="10" text-anchor="end" fill="#262626" textLength="15.0" lengthAdjust="spacingAndGlyphs">0.0</text>
<text x="14.20" y="178.00" font-size="11" text-anchor="middle" fill="#262626" textLength="106.5" lengthAdjust="spacingAndGlyphs" transform="rotate(-90 14.20 178.00)">Marginal probability</text>
<text x="14.20" y="291.60" font-size="11" text-anchor="middle" fill="#262626" textLength="98.3" lengthAdjust="spacingAndGlyphs" transform="rotate(-90 14.20 291.60)">Sampled spiketrains</text>
<text x="8.30" y="39.80" font-size="28" text-anchor="start" fill="#1a1a1a" textLength="17.6" lengthAdjust="spacingAndGlyphs">A</text>
<clipPath id="c0"><rect x="30" y="150" width="8.4" height="20"/></clipPath>
<text x="38.6" y="162.6" font-size="9.5" text-anchor="middle" fill="#262626" clip-path="url(#c0)">0</text>
<text x="399.50" y="39.30" font-size="25" text-anchor="start" fill="#1a1a1a" textLength="17.6" lengthAdjust="spacingAndGlyphs">B</text>
<rect x="438.10" y="139.60" width="40.10" height="30.20" fill="rgba(181,9,5,0.5)"/>
<rect x="438.85" y="140.35" width="38.60" height="28.70" fill="none" stroke="rgba(181,9,5,0.5)" stroke-width="1.5"/>
<rect x="477.00" y="98.64" width="40.00" height="71.16" fill="rgba(181,9,5,0.5)"/>
<rect x="477.75" y="99.39" width="38.50" height="69.66" fill="none" stroke="rgba(181,9,5,0.5)" stroke-width="1.5"/>
<rect x="515.80" y="148.93" width="39.80" height="20.88" fill="rgba(181,9,5,0.5)"/>
<rect x="516.55" y="149.68" width="38.30" height="19.38" fill="none" stroke="rgba(181,9,5,0.5)" stroke-width="1.5"/>
<rect x="554.40" y="166.77" width="40.40" height="3.03" fill="rgba(181,9,5,0.5)"/>
<rect x="555.15" y="167.52" width="38.90" height="1.53" fill="none" stroke="rgba(181,9,5,0.5)" stroke-width="1.5"/>
<rect x="477.00" y="47.55" width="40.00" height="122.25" fill="rgba(17,33,185,0.5)"/>
<rect x="477.75" y="48.30" width="38.50" height="120.75" fill="none" stroke="rgba(17,33,185,0.5)" stroke-width="1.5"/>
<line x1="431.20" y1="41.00" x2="431.20" y2="170.50" stroke="#707070" stroke-width="1.4" />
<line x1="430.50" y1="169.90" x2="602.40" y2="169.90" stroke="#707070" stroke-width="1.4" />
<text x="428.00" y="52.00" font-size="10" text-anchor="end" fill="#262626" textLength="18.0" lengthAdjust="spacingAndGlyphs">300</text>
<text x="428.00" y="93.20" font-size="10" text-anchor="end" fill="#262626" textLength="18.0" lengthAdjust="spacingAndGlyphs">200</text>
<text x="428.00" y="133.70" font-size="10" text-anchor="end" fill="#262626" textLength="18.0" lengthAdjust="spacingAndGlyphs">100</text>
<text x="428.00" y="174.70" font-size="10" text-anchor="end" fill="#262626">0</text>
<text x="457.80" y="180.80" font-size="10" text-anchor="middle" fill="#262626">0</text>
<text x="496.80" y="180.80" font-size="10" text-anchor="middle" fill="#262626">1</text>
<text x="535.60" y="180.80" font-size="10" text-anchor="middle" fill="#262626">2</text>
<text x="574.20" y="180.80" font-size="10" text-anchor="middle" fill="#262626">3</text>
<text x="441.90" y="193.60" font-size="11" text-anchor="start" fill="#262626" textLength="148.6" lengthAdjust="spacingAndGlyphs">Sampled spikes / True spike</text>
<rect x="528.30" y="92.30" width="23.70" height="9.60" fill="rgba(181,9,5,0.5)"/>
<rect x="529.05" y="93.05" width="22.20" height="8.10" fill="none" stroke="rgba(181,9,5,0.5)" stroke-width="1.5"/>
<rect x="528.30" y="108.00" width="23.70" height="9.70" fill="rgba(17,33,185,0.5)"/>
<rect x="529.05" y="108.75" width="22.20" height="8.20" fill="none" stroke="rgba(17,33,185,0.5)" stroke-width="1.5"/>
<text x="559.80" y="100.90" font-size="10.6" text-anchor="start" fill="#262626" textLength="24.2" lengthAdjust="spacingAndGlyphs">DS-F</text>
<text x="559.80" y="116.50" font-size="10.6" text-anchor="start" fill="#262626" textLength="32.2" lengthAdjust="spacingAndGlyphs">DS-NF</text>
<text x="399.60" y="197.90" font-size="29.5" text-anchor="start" fill="#1a1a1a" textLength="18.2" lengthAdjust="spacingAndGlyphs">C</text>
<line x1="431.00" y1="365.00" x2="601.40" y2="204.80" stroke="rgb(50,125,190)" stroke-width="1.5" stroke-dasharray="5.2,2.6"/>
<circle cx="578.3" cy="209.9" r="3" fill="rgb(0,128,0)"/>
<circle cx="574.7" cy="218.7" r="3" fill="rgb(0,128,0)"/>
<circle cx="569.4" cy="224.3" r="3" fill="rgb(0,128,0)"/>
<circle cx="558.5" cy="228.2" r="3" fill="rgb(0,128,0)"/>
<circle cx="555.3" cy="233.9" r="3" fill="rgb(0,128,0)"/>
<circle cx="564.5" cy="234.9" r="3" fill="rgb(0,128,0)"/>
<circle cx="559.9" cy="237.7" r="3" fill="rgb(0,128,0)"/>
<circle cx="551.1" cy="238.4" r="3" fill="rgb(0,128,0)"/>
<circle cx="543" cy="237.7" r="3" fill="rgb(0,128,0)"/>
<circle cx="548.3" cy="248" r="3" fill="rgb(0,128,0)"/>
<circle cx="550" cy="249.4" r="3" fill="rgb(0,128,0)"/>
<circle cx="567.7" cy="246.9" r="3" fill="rgb(0,128,0)"/>
<circle cx="541.9" cy="254.7" r="3" fill="rgb(0,128,0)"/>
<circle cx="537" cy="258.5" r="3" fill="rgb(0,128,0)"/>
<circle cx="531.4" cy="260" r="3" fill="rgb(0,128,0)"/>
<circle cx="540.5" cy="260.6" r="3" fill="rgb(0,128,0)"/>
<circle cx="530.6" cy="264.2" r="3" fill="rgb(0,128,0)"/>
<circle cx="533.5" cy="265.6" r="3" fill="rgb(0,128,0)"/>
<circle cx="536.3" cy="267.7" r="3" fill="rgb(0,128,0)"/>
<circle cx="541.9" cy="265.2" r="3" fill="rgb(0,128,0)"/>
<circle cx="511.3" cy="270.9" r="3" fill="rgb(0,128,0)"/>
<circle cx="508.1" cy="276.2" r="3" fill="rgb(0,128,0)"/>
<circle cx="505.3" cy="287.4" r="3" fill="rgb(0,128,0)"/>
<circle cx="505.6" cy="290.6" r="3" fill="rgb(0,128,0)"/>
<circle cx="491.9" cy="299.8" r="3" fill="rgb(0,128,0)"/>
<circle cx="490.5" cy="303.7" r="3" fill="rgb(0,128,0)"/>
<circle cx="489.4" cy="316.4" r="3" fill="rgb(0,128,0)"/>
<circle cx="467.9" cy="316.6" r="3" fill="rgb(0,128,0)"/>
<rect x="431.0" y="204.8" width="170.39999999999998" height="160.2" fill="none" stroke="#3a3a3a" stroke-width="1.3"/>
<text x="428.00" y="208.40" font-size="10" text-anchor="end" fill="#262626" textLength="15.0" lengthAdjust="spacingAndGlyphs">1.0</text>
<text x="428.00" y="261.80" font-size="10" text-anchor="end" fill="#262626" textLength="15.0" lengthAdjust="spacingAndGlyphs">0.8</text>
<text x="428.00" y="315.20" font-size="10" text-anchor="end" fill="#262626" textLength="15.0" lengthAdjust="spacingAndGlyphs">0.6</text>
<text x="428.00" y="368.60" font-size="10" text-anchor="end" fill="#262626" textLength="15.0" lengthAdjust="spacingAndGlyphs">0.4</text>
<text x="431.00" y="376.10" font-size="10" text-anchor="middle" fill="#262626" textLength="15.0" lengthAdjust="spacingAndGlyphs">0.4</text>
<text x="487.80" y="376.10" font-size="10" text-anchor="middle" fill="#262626" textLength="15.0" lengthAdjust="spacingAndGlyphs">0.6</text>
<text x="544.60" y="376.10" font-size="10" text-anchor="middle" fill="#262626" textLength="15.0" lengthAdjust="spacingAndGlyphs">0.8</text>
<text x="601.40" y="376.10" font-size="10" text-anchor="middle" fill="#262626" textLength="15.0" lengthAdjust="spacingAndGlyphs">1.0</text>
<text x="407.60" y="284.70" font-size="11" text-anchor="middle" fill="#262626" textLength="108.5" lengthAdjust="spacingAndGlyphs" transform="rotate(-90 407.60 284.70)">Single cell inference</text>
<text x="445.40" y="275.90" font-size="11" text-anchor="middle" fill="#262626" textLength="121.0" lengthAdjust="spacingAndGlyphs" transform="rotate(-90 445.40 275.90)">Mean correlation: 0.80</text>
<text x="519.30" y="359.60" font-size="11" text-anchor="middle" fill="#262626" textLength="121.0" lengthAdjust="spacingAndGlyphs">Mean correlation: 0.77</text>
<text x="516.70" y="388.80" font-size="11" text-anchor="middle" fill="#262626" textLength="98.4" lengthAdjust="spacingAndGlyphs">Amortized network</text>
<text x="618.80" y="37.40" font-size="25" text-anchor="start" fill="#1a1a1a" textLength="19.5" lengthAdjust="spacingAndGlyphs">D</text>
<line x1="816.40" y1="51.30" x2="664.90" y2="198.40" stroke="rgb(50,125,190)" stroke-width="1.5" stroke-dasharray="5.2,2.6"/>
<circle cx="683.40" cy="127.14" r="3" fill="rgb(0,128,0)"/>
<circle cx="686.35" cy="125.78" r="3" fill="rgb(0,128,0)"/>
<circle cx="689.07" cy="123.06" r="3" fill="rgb(0,128,0)"/>
<circle cx="691.34" cy="121.92" r="3" fill="rgb(0,128,0)"/>
<circle cx="690.21" cy="125.33" r="3" fill="rgb(0,128,0)"/>
<circle cx="694.75" cy="120.79" r="3" fill="rgb(0,128,0)"/>
<circle cx="695.43" cy="114.44" r="3" fill="rgb(0,128,0)"/>
<circle cx="696.33" cy="110.58" r="3" fill="rgb(0,128,0)"/>
<circle cx="704.50" cy="121.92" r="3" fill="rgb(0,128,0)"/>
<circle cx="706.77" cy="111.26" r="3" fill="rgb(0,128,0)"/>
<circle cx="708.36" cy="109.45" r="3" fill="rgb(0,128,0)"/>
<circle cx="710.63" cy="102.19" r="3" fill="rgb(0,128,0)"/>
<circle cx="716.30" cy="103.77" r="3" fill="rgb(0,128,0)"/>
<circle cx="717.43" cy="99.24" r="3" fill="rgb(0,128,0)"/>
<circle cx="719.02" cy="97.65" r="3" fill="rgb(0,128,0)"/>
<circle cx="720.83" cy="101.51" r="3" fill="rgb(0,128,0)"/>
<circle cx="723.10" cy="92.43" r="3" fill="rgb(0,128,0)"/>
<circle cx="724.24" cy="98.10" r="3" fill="rgb(0,128,0)"/>
<circle cx="726.51" cy="95.38" r="3" fill="rgb(0,128,0)"/>
<circle cx="727.64" cy="102.64" r="3" fill="rgb(0,128,0)"/>
<circle cx="728.77" cy="99.24" r="3" fill="rgb(0,128,0)"/>
<circle cx="731.04" cy="95.83" r="3" fill="rgb(0,128,0)"/>
<circle cx="733.31" cy="90.16" r="3" fill="rgb(0,128,0)"/>
<circle cx="734.45" cy="99.24" r="3" fill="rgb(0,128,0)"/>
<circle cx="736.72" cy="94.70" r="3" fill="rgb(0,128,0)"/>
<circle cx="738.98" cy="92.43" r="3" fill="rgb(0,128,0)"/>
<circle cx="740.80" cy="88.58" r="3" fill="rgb(0,128,0)"/>
<circle cx="741.71" cy="84.49" r="3" fill="rgb(0,128,0)"/>
<circle cx="743.97" cy="89.03" r="3" fill="rgb(0,128,0)"/>
<circle cx="745.79" cy="86.76" r="3" fill="rgb(0,128,0)"/>
<circle cx="747.60" cy="82.68" r="3" fill="rgb(0,128,0)"/>
<circle cx="749.19" cy="89.03" r="3" fill="rgb(0,128,0)"/>
<circle cx="750.33" cy="84.49" r="3" fill="rgb(0,128,0)"/>
<circle cx="752.60" cy="82.22" r="3" fill="rgb(0,128,0)"/>
<circle cx="754.86" cy="79.95" r="3" fill="rgb(0,128,0)"/>
<circle cx="757.13" cy="76.55" r="3" fill="rgb(0,128,0)"/>
<circle cx="758.27" cy="74.28" r="3" fill="rgb(0,128,0)"/>
<circle cx="760.54" cy="78.82" r="3" fill="rgb(0,128,0)"/>
<circle cx="762.80" cy="76.55" r="3" fill="rgb(0,128,0)"/>
<circle cx="765.07" cy="81.09" r="3" fill="rgb(0,128,0)"/>
<circle cx="766.21" cy="74.28" r="3" fill="rgb(0,128,0)"/>
<circle cx="768.48" cy="77.69" r="3" fill="rgb(0,128,0)"/>
<circle cx="770.74" cy="68.61" r="3" fill="rgb(0,128,0)"/>
<circle cx="773.01" cy="72.01" r="3" fill="rgb(0,128,0)"/>
<circle cx="774.83" cy="71.33" r="3" fill="rgb(0,128,0)"/>
<circle cx="777.55" cy="69.75" r="3" fill="rgb(0,128,0)"/>
<circle cx="779.82" cy="67.48" r="3" fill="rgb(0,128,0)"/>
<circle cx="782.09" cy="66.34" r="3" fill="rgb(0,128,0)"/>
<circle cx="783.22" cy="73.15" r="3" fill="rgb(0,128,0)"/>
<circle cx="784.36" cy="64.07" r="3" fill="rgb(0,128,0)"/>
<circle cx="786.62" cy="62.26" r="3" fill="rgb(0,128,0)"/>
<circle cx="791.16" cy="70.88" r="3" fill="rgb(0,128,0)"/>
<circle cx="660.70" cy="154.00" r="3" fill="rgb(0,128,0)"/>
<circle cx="779.50" cy="67.30" r="3" fill="rgb(0,128,0)"/>
<circle cx="767.57" cy="69.26" r="3" fill="rgb(0,128,0)"/>
<circle cx="744.22" cy="84.13" r="3" fill="rgb(0,128,0)"/>
<circle cx="743.39" cy="92.30" r="3" fill="rgb(0,128,0)"/>
<circle cx="734.78" cy="91.85" r="3" fill="rgb(0,128,0)"/>
<circle cx="758.33" cy="78.57" r="3" fill="rgb(0,128,0)"/>
<circle cx="768.09" cy="76.35" r="3" fill="rgb(0,128,0)"/>
<circle cx="749.53" cy="84.48" r="3" fill="rgb(0,128,0)"/>
<circle cx="765.75" cy="74.49" r="3" fill="rgb(0,128,0)"/>
<circle cx="729.33" cy="96.60" r="3" fill="rgb(0,128,0)"/>
<circle cx="754.26" cy="87.07" r="3" fill="rgb(0,128,0)"/>
<circle cx="776.33" cy="70.55" r="3" fill="rgb(0,128,0)"/>
<circle cx="771.20" cy="78.00" r="3" fill="rgb(0,128,0)"/>
<circle cx="764.30" cy="73.41" r="3" fill="rgb(0,128,0)"/>
<circle cx="723.81" cy="97.05" r="3" fill="rgb(0,128,0)"/>
<circle cx="776.74" cy="69.95" r="3" fill="rgb(0,128,0)"/>
<circle cx="738.11" cy="97.07" r="3" fill="rgb(0,128,0)"/>
<circle cx="726.44" cy="101.17" r="3" fill="rgb(0,128,0)"/>
<circle cx="741.40" cy="90.60" r="3" fill="rgb(0,128,0)"/>
<circle cx="731.04" cy="93.82" r="3" fill="rgb(0,128,0)"/>
<circle cx="763.10" cy="72.60" r="3" fill="rgb(0,128,0)"/>
<circle cx="718.36" cy="100.81" r="3" fill="rgb(0,128,0)"/>
<circle cx="731.59" cy="97.11" r="3" fill="rgb(0,128,0)"/>
<circle cx="767.60" cy="73.19" r="3" fill="rgb(0,128,0)"/>
<circle cx="731.64" cy="97.13" r="3" fill="rgb(0,128,0)"/>
<circle cx="763.14" cy="71.94" r="3" fill="rgb(0,128,0)"/>
<circle cx="728.99" cy="90.63" r="3" fill="rgb(0,128,0)"/>
<circle cx="751.84" cy="83.19" r="3" fill="rgb(0,128,0)"/>
<circle cx="717.68" cy="108.99" r="3" fill="rgb(0,128,0)"/>
<circle cx="768.09" cy="72.68" r="3" fill="rgb(0,128,0)"/>
<circle cx="714.54" cy="101.02" r="3" fill="rgb(0,128,0)"/>
<circle cx="730.17" cy="99.03" r="3" fill="rgb(0,128,0)"/>
<circle cx="768.62" cy="75.12" r="3" fill="rgb(0,128,0)"/>
<circle cx="736.59" cy="96.84" r="3" fill="rgb(0,128,0)"/>
<circle cx="738.92" cy="94.47" r="3" fill="rgb(0,128,0)"/>
<rect x="653.6" y="44.3" width="170.5" height="160.3" fill="none" stroke="#3a3a3a" stroke-width="1.3"/>
<text x="664.90" y="40.30" font-size="10" text-anchor="middle" fill="#262626" textLength="26.4" lengthAdjust="spacingAndGlyphs">−500</text>
<text x="650.50" y="202.00" font-size="10" text-anchor="end" fill="#262626" textLength="26.4" lengthAdjust="spacingAndGlyphs">−500</text>
<text x="695.10" y="40.30" font-size="10" text-anchor="middle" fill="#262626" textLength="26.4" lengthAdjust="spacingAndGlyphs">−400</text>
<text x="650.50" y="172.68" font-size="10" text-anchor="end" fill="#262626" textLength="26.4" lengthAdjust="spacingAndGlyphs">−400</text>
<text x="725.30" y="40.30" font-size="10" text-anchor="middle" fill="#262626" textLength="26.4" lengthAdjust="spacingAndGlyphs">−300</text>
<text x="650.50" y="143.36" font-size="10" text-anchor="end" fill="#262626" textLength="26.4" lengthAdjust="spacingAndGlyphs">−300</text>
<text x="755.50" y="40.30" font-size="10" text-anchor="middle" fill="#262626" textLength="26.4" lengthAdjust="spacingAndGlyphs">−200</text>
<text x="650.50" y="114.04" font-size="10" text-anchor="end" fill="#262626" textLength="26.4" lengthAdjust="spacingAndGlyphs">−200</text>
<text x="785.70" y="40.30" font-size="10" text-anchor="middle" fill="#262626" textLength="26.4" lengthAdjust="spacingAndGlyphs">−100</text>
<text x="650.50" y="84.72" font-size="10" text-anchor="end" fill="#262626" textLength="26.4" lengthAdjust="spacingAndGlyphs">−100</text>
<text x="815.90" y="40.30" font-size="10" text-anchor="middle" fill="#262626">0</text>
<text x="650.50" y="55.40" font-size="10" text-anchor="end" fill="#262626">0</text>
<text x="658.50" y="57.80" font-size="11" text-anchor="start" fill="#262626" textLength="69.8" lengthAdjust="spacingAndGlyphs">Loglikelihood</text>
<text x="658.50" y="69.80" font-size="11" text-anchor="start" fill="#262626" textLength="87.8" lengthAdjust="spacingAndGlyphs">(True spiketrain)</text>
<line x1="674.10" y1="351.90" x2="817.70" y2="209.80" stroke="rgb(50,125,190)" stroke-width="1.5" stroke-dasharray="5.2,2.6"/>
<circle cx="684.91" cy="323.99" r="3" fill="rgb(0,128,0)"/>
<circle cx="685.90" cy="330.54" r="3" fill="rgb(0,128,0)"/>
<circle cx="689.83" cy="323.00" r="3" fill="rgb(0,128,0)"/>
<circle cx="693.76" cy="321.37" r="3" fill="rgb(0,128,0)"/>
<circle cx="697.03" cy="320.71" r="3" fill="rgb(0,128,0)"/>
<circle cx="699.65" cy="316.45" r="3" fill="rgb(0,128,0)"/>
<circle cx="700.31" cy="314.81" r="3" fill="rgb(0,128,0)"/>
<circle cx="708.82" cy="308.26" r="3" fill="rgb(0,128,0)"/>
<circle cx="710.13" cy="306.63" r="3" fill="rgb(0,128,0)"/>
<circle cx="715.38" cy="300.08" r="3" fill="rgb(0,128,0)"/>
<circle cx="716.69" cy="304.33" r="3" fill="rgb(0,128,0)"/>
<circle cx="719.96" cy="297.78" r="3" fill="rgb(0,128,0)"/>
<circle cx="722.58" cy="295.82" r="3" fill="rgb(0,128,0)"/>
<circle cx="724.22" cy="294.51" r="3" fill="rgb(0,128,0)"/>
<circle cx="725.86" cy="296.80" r="3" fill="rgb(0,128,0)"/>
<circle cx="728.48" cy="290.25" r="3" fill="rgb(0,128,0)"/>
<circle cx="730.77" cy="287.96" r="3" fill="rgb(0,128,0)"/>
<circle cx="732.41" cy="285.34" r="3" fill="rgb(0,128,0)"/>
<circle cx="734.05" cy="283.70" r="3" fill="rgb(0,128,0)"/>
<circle cx="735.68" cy="285.99" r="3" fill="rgb(0,128,0)"/>
<circle cx="737.32" cy="284.68" r="3" fill="rgb(0,128,0)"/>
<circle cx="739.94" cy="287.96" r="3" fill="rgb(0,128,0)"/>
<circle cx="738.96" cy="280.42" r="3" fill="rgb(0,128,0)"/>
<circle cx="739.61" cy="274.85" r="3" fill="rgb(0,128,0)"/>
<circle cx="743.87" cy="277.15" r="3" fill="rgb(0,128,0)"/>
<circle cx="744.85" cy="272.23" r="3" fill="rgb(0,128,0)"/>
<circle cx="746.49" cy="267.32" r="3" fill="rgb(0,128,0)"/>
<circle cx="747.15" cy="278.78" r="3" fill="rgb(0,128,0)"/>
<circle cx="748.78" cy="273.87" r="3" fill="rgb(0,128,0)"/>
<circle cx="751.41" cy="270.60" r="3" fill="rgb(0,128,0)"/>
<circle cx="752.72" cy="264.05" r="3" fill="rgb(0,128,0)"/>
<circle cx="753.70" cy="268.30" r="3" fill="rgb(0,128,0)"/>
<circle cx="755.34" cy="273.87" r="3" fill="rgb(0,128,0)"/>
<circle cx="756.97" cy="265.68" r="3" fill="rgb(0,128,0)"/>
<circle cx="758.61" cy="260.77" r="3" fill="rgb(0,128,0)"/>
<circle cx="759.27" cy="258.48" r="3" fill="rgb(0,128,0)"/>
<circle cx="761.23" cy="262.41" r="3" fill="rgb(0,128,0)"/>
<circle cx="762.54" cy="266.34" r="3" fill="rgb(0,128,0)"/>
<circle cx="764.51" cy="261.75" r="3" fill="rgb(0,128,0)"/>
<circle cx="765.82" cy="255.20" r="3" fill="rgb(0,128,0)"/>
<circle cx="765.82" cy="244.39" r="3" fill="rgb(0,128,0)"/>
<circle cx="767.78" cy="259.13" r="3" fill="rgb(0,128,0)"/>
<circle cx="768.44" cy="249.31" r="3" fill="rgb(0,128,0)"/>
<circle cx="770.08" cy="251.93" r="3" fill="rgb(0,128,0)"/>
<circle cx="771.06" cy="246.69" r="3" fill="rgb(0,128,0)"/>
<circle cx="773.35" cy="248.65" r="3" fill="rgb(0,128,0)"/>
<circle cx="774.99" cy="244.39" r="3" fill="rgb(0,128,0)"/>
<circle cx="778.26" cy="242.10" r="3" fill="rgb(0,128,0)"/>
<circle cx="778.26" cy="238.82" r="3" fill="rgb(0,128,0)"/>
<circle cx="779.90" cy="232.93" r="3" fill="rgb(0,128,0)"/>
<circle cx="781.54" cy="240.13" r="3" fill="rgb(0,128,0)"/>
<circle cx="784.16" cy="242.75" r="3" fill="rgb(0,128,0)"/>
<circle cx="785.47" cy="234.57" r="3" fill="rgb(0,128,0)"/>
<circle cx="788.09" cy="232.93" r="3" fill="rgb(0,128,0)"/>
<circle cx="789.73" cy="229.65" r="3" fill="rgb(0,128,0)"/>
<circle cx="793.00" cy="235.55" r="3" fill="rgb(0,128,0)"/>
<circle cx="794.64" cy="224.74" r="3" fill="rgb(0,128,0)"/>
<circle cx="796.28" cy="228.02" r="3" fill="rgb(0,128,0)"/>
<circle cx="798.57" cy="232.27" r="3" fill="rgb(0,128,0)"/>
<circle cx="664.50" cy="354.40" r="3" fill="rgb(0,128,0)"/>
<circle cx="784.77" cy="241.90" r="3" fill="rgb(0,128,0)"/>
<circle cx="749.67" cy="269.74" r="3" fill="rgb(0,128,0)"/>
<circle cx="767.80" cy="252.96" r="3" fill="rgb(0,128,0)"/>
<circle cx="758.86" cy="263.19" r="3" fill="rgb(0,128,0)"/>
<circle cx="718.17" cy="297.39" r="3" fill="rgb(0,128,0)"/>
<circle cx="770.26" cy="250.52" r="3" fill="rgb(0,128,0)"/>
<circle cx="743.32" cy="272.49" r="3" fill="rgb(0,128,0)"/>
<circle cx="769.60" cy="258.57" r="3" fill="rgb(0,128,0)"/>
<circle cx="757.47" cy="261.55" r="3" fill="rgb(0,128,0)"/>
<circle cx="773.83" cy="242.73" r="3" fill="rgb(0,128,0)"/>
<circle cx="723.49" cy="294.77" r="3" fill="rgb(0,128,0)"/>
<circle cx="787.94" cy="239.52" r="3" fill="rgb(0,128,0)"/>
<circle cx="765.77" cy="256.96" r="3" fill="rgb(0,128,0)"/>
<circle cx="763.84" cy="255.14" r="3" fill="rgb(0,128,0)"/>
<circle cx="776.74" cy="249.35" r="3" fill="rgb(0,128,0)"/>
<circle cx="771.02" cy="250.83" r="3" fill="rgb(0,128,0)"/>
<circle cx="775.97" cy="244.68" r="3" fill="rgb(0,128,0)"/>
<circle cx="718.93" cy="297.25" r="3" fill="rgb(0,128,0)"/>
<circle cx="735.93" cy="283.08" r="3" fill="rgb(0,128,0)"/>
<circle cx="747.22" cy="266.07" r="3" fill="rgb(0,128,0)"/>
<circle cx="761.07" cy="259.48" r="3" fill="rgb(0,128,0)"/>
<circle cx="754.28" cy="267.06" r="3" fill="rgb(0,128,0)"/>
<circle cx="724.63" cy="292.03" r="3" fill="rgb(0,128,0)"/>
<circle cx="727.08" cy="289.90" r="3" fill="rgb(0,128,0)"/>
<circle cx="748.78" cy="270.42" r="3" fill="rgb(0,128,0)"/>
<circle cx="718.03" cy="293.76" r="3" fill="rgb(0,128,0)"/>
<circle cx="752.63" cy="268.89" r="3" fill="rgb(0,128,0)"/>
<circle cx="742.02" cy="277.99" r="3" fill="rgb(0,128,0)"/>
<circle cx="756.76" cy="264.37" r="3" fill="rgb(0,128,0)"/>
<circle cx="775.93" cy="244.02" r="3" fill="rgb(0,128,0)"/>
<circle cx="717.31" cy="297.96" r="3" fill="rgb(0,128,0)"/>
<circle cx="734.13" cy="281.30" r="3" fill="rgb(0,128,0)"/>
<circle cx="718.87" cy="296.87" r="3" fill="rgb(0,128,0)"/>
<circle cx="778.33" cy="245.63" r="3" fill="rgb(0,128,0)"/>
<circle cx="771.54" cy="254.90" r="3" fill="rgb(0,128,0)"/>
<rect x="653.6" y="204.6" width="170.5" height="160.00000000000003" fill="none" stroke="#3a3a3a" stroke-width="1.3"/>
<text x="650.50" y="215.40" font-size="10" text-anchor="end" fill="#262626" textLength="15.0" lengthAdjust="spacingAndGlyphs">1.0</text>
<text x="815.70" y="376.10" font-size="10" text-anchor="middle" fill="#262626" textLength="15.0" lengthAdjust="spacingAndGlyphs">1.0</text>
<text x="650.50" y="262.10" font-size="10" text-anchor="end" fill="#262626" textLength="15.0" lengthAdjust="spacingAndGlyphs">0.8</text>
<text x="768.50" y="376.10" font-size="10" text-anchor="middle" fill="#262626" textLength="15.0" lengthAdjust="spacingAndGlyphs">0.8</text>
<text x="650.50" y="308.80" font-size="10" text-anchor="end" fill="#262626" textLength="15.0" lengthAdjust="spacingAndGlyphs">0.6</text>
<text x="721.30" y="376.10" font-size="10" text-anchor="middle" fill="#262626" textLength="15.0" lengthAdjust="spacingAndGlyphs">0.6</text>
<text x="650.50" y="355.50" font-size="10" text-anchor="end" fill="#262626" textLength="15.0" lengthAdjust="spacingAndGlyphs">0.4</text>
<text x="674.10" y="376.10" font-size="10" text-anchor="middle" fill="#262626" textLength="15.0" lengthAdjust="spacingAndGlyphs">0.4</text>
<text x="659.40" y="219.20" font-size="11" text-anchor="start" fill="#262626" textLength="58.1" lengthAdjust="spacingAndGlyphs">Correlation</text>
<text x="659.40" y="231.40" font-size="11" text-anchor="start" fill="#262626" textLength="114.5" lengthAdjust="spacingAndGlyphs">(Marginal probability)</text>
<text x="738.30" y="389.20" font-size="11" text-anchor="middle" fill="#262626" textLength="105.0" lengthAdjust="spacingAndGlyphs">Factorized posterior</text>
<text x="620.40" y="190.50" font-size="11" text-anchor="middle" fill="#262626" textLength="108.0" lengthAdjust="spacingAndGlyphs" transform="rotate(-90 620.40 190.50)">Correlated posterior</text>
</svg></body></html>
